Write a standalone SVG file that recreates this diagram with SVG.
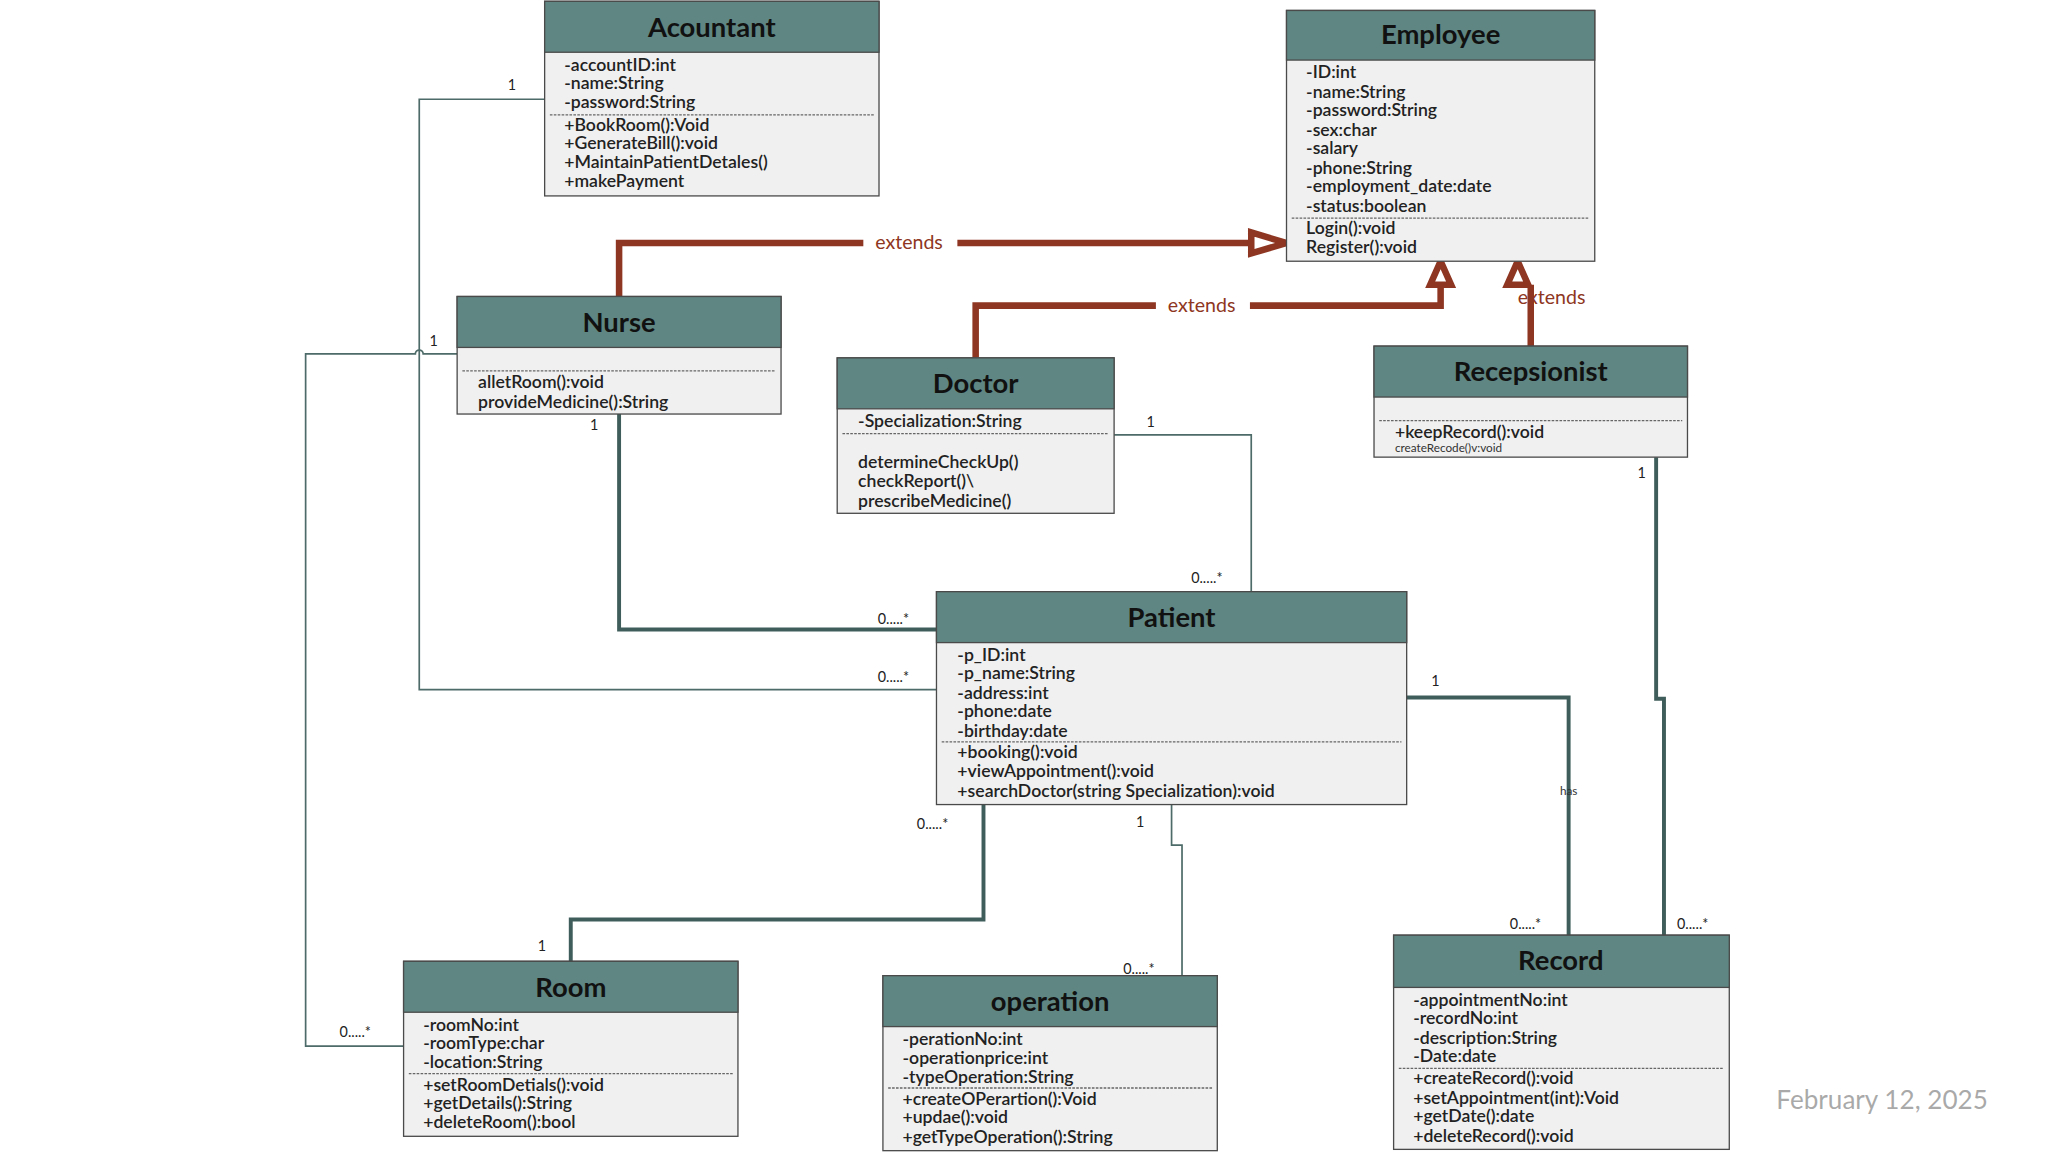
<svg xmlns="http://www.w3.org/2000/svg" width="2048" height="1152" viewBox="0 0 2048 1152">
<defs>
<style>
.box{fill:#f0f0f0;stroke:#4a4a4a;stroke-width:1}
.hd{fill:#5f8682;stroke:#4a4a4a;stroke-width:1}
.ht{font-family:Lato,"Open Sans",sans-serif;font-weight:bold;font-size:21px;fill:#111;text-anchor:middle}
.t{font-family:Lato,"Open Sans",sans-serif;font-weight:600;font-size:13.5px;fill:#222}
.sm{font-family:Lato,"Open Sans",sans-serif;font-size:9px;fill:#333}
.dl{stroke:#666;stroke-width:1;stroke-dasharray:2 1}
.thin{fill:none;stroke:#4d6b68;stroke-width:1.3}
.thick{fill:none;stroke:#3f5e5b;stroke-width:3}
.ext{fill:none;stroke:#8e3622;stroke-width:5}
.el{font-family:Lato,"Open Sans",sans-serif;font-size:15px;fill:#8e3622;text-anchor:middle}
.m{font-family:Lato,"Open Sans",sans-serif;font-size:11px;fill:#222;text-anchor:middle}
</style>
</defs>
<rect width="2048" height="1152" fill="#fff"/>
<g transform="scale(1.3061)">
<g id="connectors">
<path class="thin" d="M417,76 H321 V528 H717"/>
<path class="thick" d="M474,317 V482 H717"/>
<path class="thin" d="M853,333 H958 V453"/>
<path class="thin" d="M350,271 H324 a3,3 0 0 0 -6,0 H234 V801 H309"/>
<path class="thick" d="M753,616 V704 H437 V736"/>
<path class="thin" d="M897,616 V647 H905 V747"/>
<path class="thick" d="M1077,534 H1201 V716"/>
<path class="thick" d="M1268,350 V535 H1274 V716"/>
<path class="ext" d="M474,227 V186 H965"/>
<path d="M958,178 L985,186 L958,194 Z" fill="#fff" stroke="#8e3622" stroke-width="5"/>
<path class="ext" d="M747,274 V234 H1103 V218"/>
<path d="M1095,218 L1103,200 L1111,218 Z" fill="#fff" stroke="#8e3622" stroke-width="5"/>
<path class="ext" d="M1172,265 V218"/>
<path d="M1154,218 L1162,200 L1170,218 Z" fill="#fff" stroke="#8e3622" stroke-width="5"/>
<rect x="661" y="178" width="72" height="16" fill="#fff"/>
<text class="el" x="696" y="191">extends</text>
<rect x="885" y="226" width="72" height="16" fill="#fff"/>
<text class="el" x="920" y="239">extends</text>
<text class="el" x="1188" y="233">extends</text>
<text class="m" x="392" y="69">1</text><text class="m" x="684" y="522">0.....*</text>
<text class="m" x="455" y="329">1</text><text class="m" x="684" y="478">0.....*</text>
<text class="m" x="881" y="327">1</text><text class="m" x="924" y="446">0.....*</text>
<text class="m" x="332" y="265">1</text><text class="m" x="272" y="794">0.....*</text>
<text class="m" x="714" y="635">0.....*</text><text class="m" x="415" y="728">1</text>
<text class="m" x="873" y="633">1</text><text class="m" x="872" y="746">0.....*</text>
<text class="m" x="1099" y="525">1</text><text class="m" x="1168" y="711">0.....*</text>
<text class="m" x="1257" y="366">1</text><text class="m" x="1296" y="711">0.....*</text>
<text class="sm" x="1201" y="609" text-anchor="middle" font-size="8">has</text>
</g>
<g id="acountant">
<rect class="box" x="417" y="1" width="256" height="149"/><rect class="hd" x="417" y="1" width="256" height="39"/>
<text class="ht" x="545" y="28">Acountant</text>
<text class="t" x="432" y="54">-accountID:int</text><text class="t" x="432" y="68">-name:String</text><text class="t" x="432" y="83">-password:String</text>
<line class="dl" x1="421" y1="88" x2="669" y2="88"/>
<text class="t" x="432" y="100">+BookRoom():Void</text><text class="t" x="432" y="114">+GenerateBill():void</text><text class="t" x="432" y="129">+MaintainPatientDetales()</text><text class="t" x="432" y="143">+makePayment</text>
</g>
<g id="employee">
<rect class="box" x="985" y="8" width="236" height="192"/><rect class="hd" x="985" y="8" width="236" height="38"/>
<text class="ht" x="1103" y="34">Employee</text>
<text class="t" x="1000" y="60">-ID:int</text><text class="t" x="1000" y="75">-name:String</text><text class="t" x="1000" y="89">-password:String</text><text class="t" x="1000" y="104">-sex:char</text><text class="t" x="1000" y="118">-salary</text><text class="t" x="1000" y="133">-phone:String</text><text class="t" x="1000" y="147">-employment_date:date</text><text class="t" x="1000" y="162">-status:boolean</text>
<line class="dl" x1="989" y1="167" x2="1217" y2="167"/>
<text class="t" x="1000" y="179">Login():void</text><text class="t" x="1000" y="194">Register():void</text>
</g>
<g id="nurse">
<rect class="box" x="350" y="227" width="248" height="90"/><rect class="hd" x="350" y="227" width="248" height="39"/>
<text class="ht" x="474" y="254">Nurse</text>
<line class="dl" x1="354" y1="284" x2="594" y2="284"/>
<text class="t" x="366" y="297">alletRoom():void</text><text class="t" x="366" y="312">provideMedicine():String</text>
</g>
<g id="doctor">
<rect class="box" x="641" y="274" width="212" height="119"/><rect class="hd" x="641" y="274" width="212" height="39"/>
<text class="ht" x="747" y="301">Doctor</text>
<text class="t" x="657" y="327">-Specialization:String</text>
<line class="dl" x1="645" y1="332" x2="849" y2="332"/>
<text class="t" x="657" y="358">determineCheckUp()</text><text class="t" x="657" y="373">checkReport()\</text><text class="t" x="657" y="388">prescribeMedicine()</text>
</g>
<g id="recepsionist">
<rect class="box" x="1052" y="265" width="240" height="85"/><rect class="hd" x="1052" y="265" width="240" height="39"/>
<text class="ht" x="1172" y="292">Recepsionist</text>
<line class="dl" x1="1056" y1="322" x2="1288" y2="322"/>
<text class="t" x="1068" y="335">+keepRecord():void</text><text class="sm" x="1068" y="346">createRecode()v:void</text>
</g>
<g id="patient">
<rect class="box" x="717" y="453" width="360" height="163"/><rect class="hd" x="717" y="453" width="360" height="39"/>
<text class="ht" x="897" y="480">Patient</text>
<text class="t" x="733" y="506">-p_ID:int</text><text class="t" x="733" y="520">-p_name:String</text><text class="t" x="733" y="535">-address:int</text><text class="t" x="733" y="549">-phone:date</text><text class="t" x="733" y="564">-birthday:date</text>
<line class="dl" x1="721" y1="568" x2="1073" y2="568"/>
<text class="t" x="733" y="580">+booking():void</text><text class="t" x="733" y="595">+viewAppointment():void</text><text class="t" x="733" y="610">+searchDoctor(string Specialization):void</text>
</g>
<g id="room">
<rect class="box" x="309" y="736" width="256" height="134"/><rect class="hd" x="309" y="736" width="256" height="39"/>
<text class="ht" x="437" y="763">Room</text>
<text class="t" x="324" y="789">-roomNo:int</text><text class="t" x="324" y="803">-roomType:char</text><text class="t" x="324" y="818">-location:String</text>
<line class="dl" x1="313" y1="822" x2="561" y2="822"/>
<text class="t" x="324" y="835">+setRoomDetials():void</text><text class="t" x="324" y="849">+getDetails():String</text><text class="t" x="324" y="864">+deleteRoom():bool</text>
</g>
<g id="operation">
<rect class="box" x="676" y="747" width="256" height="134"/><rect class="hd" x="676" y="747" width="256" height="39"/>
<text class="ht" x="804" y="774">operation</text>
<text class="t" x="691" y="800">-perationNo:int</text><text class="t" x="691" y="815">-operationprice:int</text><text class="t" x="691" y="829">-typeOperation:String</text>
<line class="dl" x1="680" y1="833" x2="928" y2="833"/>
<text class="t" x="691" y="846">+createOPerartion():Void</text><text class="t" x="691" y="860">+updae():void</text><text class="t" x="691" y="875">+getTypeOperation():String</text>
</g>
<g id="record">
<rect class="box" x="1067" y="716" width="257" height="164"/><rect class="hd" x="1067" y="716" width="257" height="40"/>
<text class="ht" x="1195" y="743">Record</text>
<text class="t" x="1082" y="770">-appointmentNo:int</text><text class="t" x="1082" y="784">-recordNo:int</text><text class="t" x="1082" y="799">-description:String</text><text class="t" x="1082" y="813">-Date:date</text>
<line class="dl" x1="1071" y1="818" x2="1320" y2="818"/>
<text class="t" x="1082" y="830">+createRecord():void</text><text class="t" x="1082" y="845">+setAppointment(int):Void</text><text class="t" x="1082" y="859">+getDate():date</text><text class="t" x="1082" y="874">+deleteRecord():void</text>
</g>
<text x="1360" y="849" font-family="Lato,'Open Sans',sans-serif" font-size="20" fill="#9a9a9a" fill-opacity="0.85">February 12, 2025</text>
</g>
</svg>
